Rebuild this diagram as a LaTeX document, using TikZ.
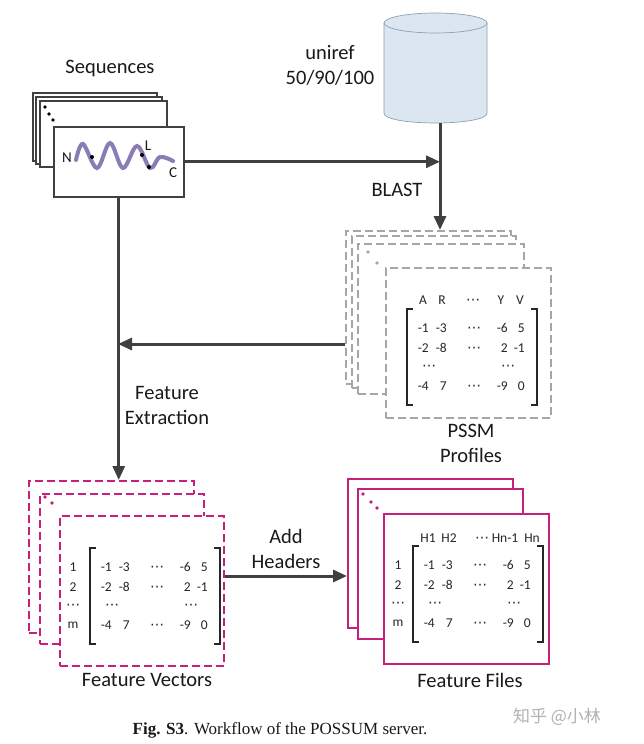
\documentclass[tikz,border=0pt]{standalone}
\usepackage{fontspec}
\setmainfont{Carlito}
\newfontfamily\capfont{Liberation Serif}
\newfontfamily\cjkfont{Noto Sans CJK SC}
\newfontfamily\symfont{DejaVu Sans}
\usetikzlibrary{arrows.meta}

\definecolor{flowgray}{HTML}{404040}
\definecolor{pssmgray}{HTML}{A6A6A6}
\definecolor{featpink}{HTML}{C8207A}
\definecolor{dbfill}{HTML}{DCE6F1}
\definecolor{dbline}{HTML}{8FA0B0}
\definecolor{seqwave}{HTML}{8A7DB5}

\newcommand{\mdots}{\vphantom{0}{\symfont\fontsize{14}{15}\selectfont ⋯}}

% score matrix: #1 name, (#2,#3) top of the left bracket
\newcommand{\scoremat}[3]{%
  \draw[bracket] (#2+6,#3) -- (#2,#3) -- (#2,#3+96) -- (#2+6,#3+96);
  \draw[bracket] (#2+124,#3) -- (#2+130,#3) -- (#2+130,#3+96) -- (#2+124,#3+96);
  \foreach \r/\dy/\va/\vb/\vd/\ve in {1/19/-1/-3/-6/5, 2/39/-2/-8/2/-1, 4/77/-4/7/-9/0}{
    \node[num, anchor=east] (#1-\r-a) at (#2+22,#3+\dy) {\va};
    \node[num, anchor=east] (#1-\r-b) at (#2+40,#3+\dy) {\vb};
    \node[num] (#1-\r-c) at (#2+67,#3+\dy) {\mdots};
    \node[num, anchor=east] (#1-\r-d) at (#2+101,#3+\dy) {\vd};
    \node[num, anchor=east] (#1-\r-e) at (#2+118,#3+\dy) {\ve};
  }
  \node[num] (#1-3-a) at (#2+22,#3+57) {\mdots};
  \node[num] (#1-3-d) at (#2+101,#3+57) {\mdots};
}

\begin{document}
\begin{tikzpicture}
  [x=1pt, y=-1pt,
   every node/.style={font=\fontsize{20.5}{25}\selectfont, text=black!90},
   flow/.style={draw=flowgray, line width=3pt, -{Triangle[length=14pt,width=12pt]}},
   card/.style={fill=white, anchor=north west, inner sep=0pt, line width=2pt},
   seqcard/.style={card, draw=flowgray, line width=1.5pt},
   pssmcard/.style={card, draw=pssmgray, dash pattern=on 8pt off 4pt},
   fvcard/.style={card, draw=featpink, dash pattern=on 8pt off 4pt},
   ffcard/.style={card, draw=featpink},
   bracket/.style={draw=black!85, line width=1.3pt},
   num/.style={font=\fontsize{13.5}{15}\selectfont, inner sep=0pt, text=black!85},
   small/.style={font=\fontsize{15}{17}\selectfont},
   db/.style={fill=dbfill, draw=dbline, line width=0.7pt}]
  \useasboundingbox[fill=white] (0,0) rectangle (644,744);

  % sequences
  \node (seqlbl) at (110,68) {Sequences};
  \node[seqcard, minimum width=124pt, minimum height=68pt] (seqA) at (32,92) {};
  \node[seqcard, minimum width=126pt, minimum height=67pt] (seqB) at (35,96) {};
  \node[seqcard, minimum width=127pt, minimum height=66pt] (seqC) at (39,100) {};
  \foreach \p in {(45,107),(49,114),(53,120)} \fill[black] \p circle[radius=1.8];
  \node[seqcard, minimum width=130pt, minimum height=70pt] (seq) at (53,126) {};
  \draw[draw=seqwave, line width=4pt, line cap=round] plot[smooth, tension=0.6]
    coordinates {(76,160) (83,144) (97,168) (110,143) (123,168) (137,146) (150,168) (160,157) (173,161)};
  \foreach \p in {(92,157),(142,155),(149,167)} \fill[black] \p circle[radius=2];
  \node[small] (nterm) at (67,158) {N};
  \node[small] (lres) at (148,146) {L};
  \node[small] (cterm) at (173,173) {C};

  % database
  \draw[db] (384,23) -- (384,113) .. controls (384,126.3) and (487,126.3) .. (487,113) -- (487,23);
  \draw[db] (435.5,23) ellipse[x radius=51.5, y radius=10];
  \coordinate (db) at (440,123);
  \node[align=center] (uniref) at (330,65) {uniref\\50/90/100};

  % pssm profiles
  \node[pssmcard, minimum width=165pt, minimum height=153pt] (pssmA) at (345,230) {};
  \node[pssmcard, minimum width=164pt, minimum height=152pt] (pssmB) at (351,235) {};
  \node[pssmcard, minimum width=166pt, minimum height=150pt] (pssmC) at (357,243) {};
  \foreach \p in {(368,252),(377,263)} \fill[pssmgray] \p circle[radius=1.8];
  \node[pssmcard, minimum width=165pt, minimum height=150pt] (pssm) at (385,267) {};
  \scoremat{pm}{407}{309}
  \foreach \h/\hx [count=\i] in {A/16,R/35,\mdots/66,Y/94,V/113}
    \node[num] (pm-h\i) at (407+\hx,300) {\h};
  \node[align=center] (pssmlbl) at (471,443) {PSSM\\Profiles};

  % feature vectors
  \node[fvcard, minimum width=165pt, minimum height=152pt] (fvA) at (28,480) {};
  \node[fvcard, minimum width=164pt, minimum height=150pt] (fvB) at (39,493) {};
  \foreach \p in {(45,497),(52,503)} \fill[featpink] \p circle[radius=1.8];
  \node[fvcard, minimum width=164pt, minimum height=150pt] (fv) at (59,515) {};
  \scoremat{fm}{90}{548}
  \foreach \t/\dy [count=\i] in {1/19,2/39,\mdots/57,m/77}
    \node[num] (fm-r\i) at (73,548+\dy) {\t};
  \node (fvlbl) at (147,680) {Feature Vectors};

  % feature files
  \node[ffcard, minimum width=165pt, minimum height=149pt] (ffA) at (347,478) {};
  \node[ffcard, minimum width=165pt, minimum height=150pt] (ffB) at (357,488) {};
  \foreach \p in {(363,494),(371,502),(377,508)} \fill[featpink] \p circle[radius=1.8];
  \node[ffcard, minimum width=165pt, minimum height=150pt] (ff) at (383,513) {};
  \scoremat{hm}{413}{546}
  \foreach \h/\hx [count=\i] in {H1/15,H2/36,\mdots/69,Hn-1/92,Hn/119}
    \node[num] (hm-h\i) at (413+\hx,538) {\h};
  \foreach \t/\dy [count=\i] in {1/19,2/39,\mdots/57,m/77}
    \node[num] (hm-r\i) at (398,546+\dy) {\t};
  \node (fflbl) at (470,680) {Feature Files};

  % connectors
  \draw[flow] (seq.east) -- (seq.east -| db);
  \draw[flow] (db) -- (db |- pssmA.north);
  \node (blast) at (397,190) {BLAST};
  \coordinate (fe) at (118,344);
  \draw[flow] (pssmA.west |- fe) -- (fe);
  \draw[flow] (seq.south) -- (seq.south |- fvA.north);
  \node[align=center] (fext) at (167,405.5) {Feature\\Extraction};
  \coordinate (ah) at ([yshift=15pt]fv.east);
  \draw[flow] (ah) -- (ah -| ffA.west);
  \node[align=center] (addh) at (286,548.5) {Add\\Headers};

  % caption
  \node[font=\capfont\fontsize{17}{19}\selectfont] (cap) at (280,730)
    {\textbf{Fig. S3}. Workflow of the POSSUM server.};
  \node[font=\cjkfont\fontsize{17}{19}\selectfont, text=black!30] (wm) at (557,717) {知乎 @小林};
\end{tikzpicture}
\end{document}
